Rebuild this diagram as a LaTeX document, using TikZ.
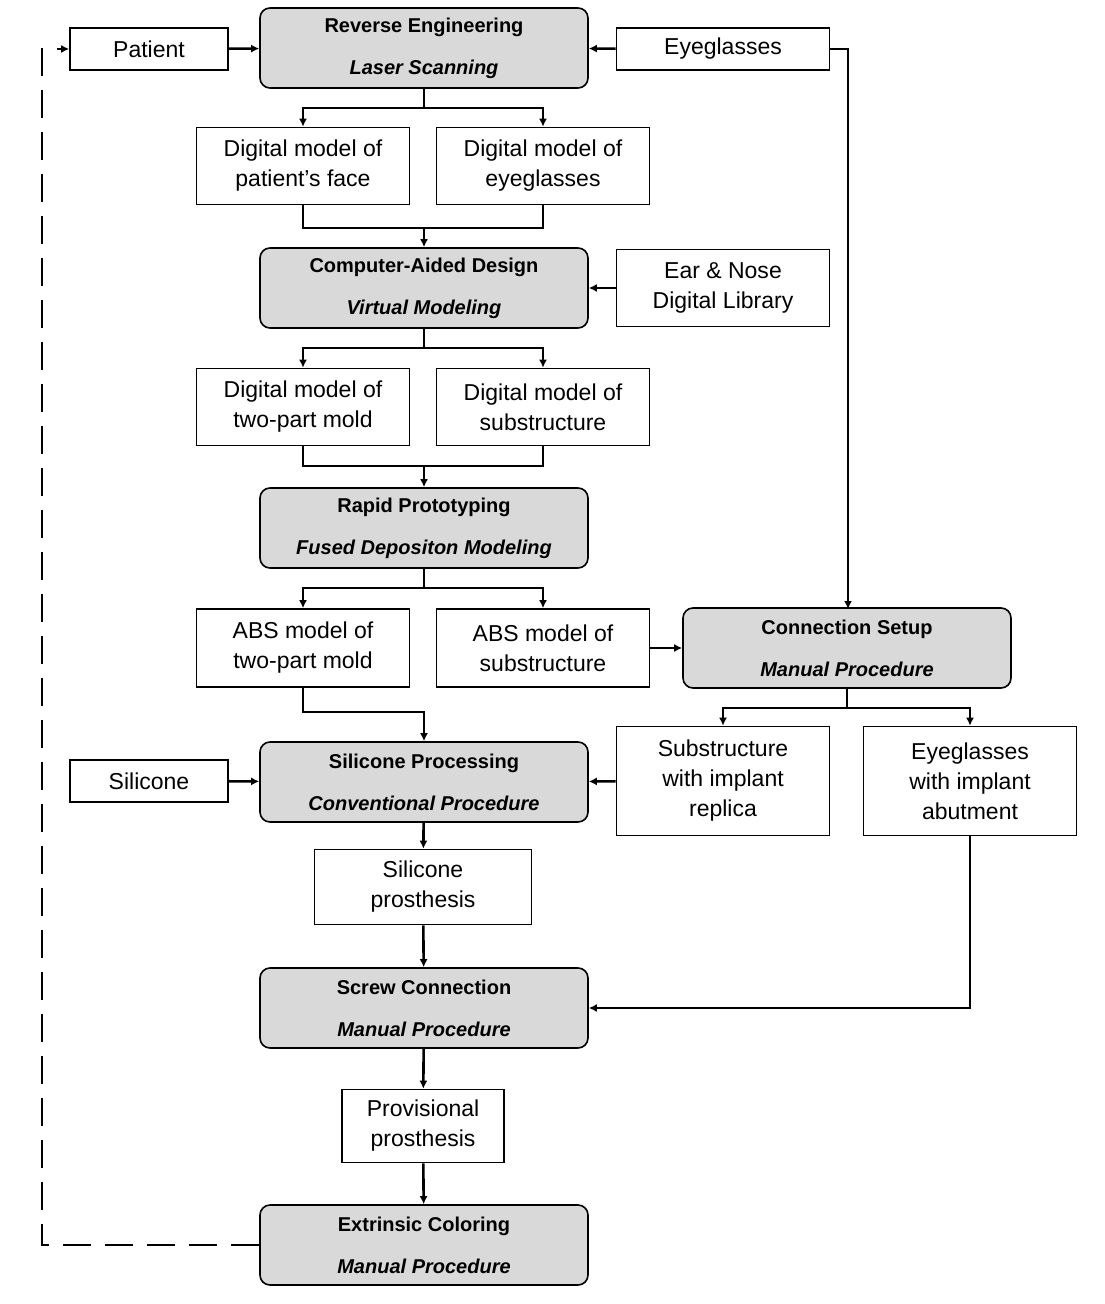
\documentclass[tikz,border=0pt]{standalone}
\usepackage{fontspec}
\setmainfont{Liberation Sans}
\usetikzlibrary{arrows.meta}
\begin{document}
\begin{tikzpicture}[x=0.5pt,y=-0.5pt,
 box/.style={draw,line width=0.8pt,align=center,inner sep=0pt,font=\fontsize{11.5}{15}\selectfont,minimum width=#1},
 box/.default=106.5pt,
 proc/.style={draw,line width=0.8pt,fill=gray!30,rounded corners=5pt,align=center,inner sep=0pt,minimum width=164pt,minimum height=40pt,font=\fontsize{10}{21}\selectfont\bfseries},
 ar/.style={line width=1.3pt,-{Latex[length=4pt,width=4pt]}},
 ln/.style={line width=1.3pt}]
\useasboundingbox (0,0) rectangle (1104,1304);
\node[box=79pt,minimum height=21pt] (pat) at (149,49) {Patient};
\node[proc] (re) at (424,48) {Reverse Engineering\\\itshape Laser Scanning};
\node[box,minimum height=21pt] (eye) at (723,49) {Eyeglasses};
\node[box,minimum height=38.5pt] (dmf) at (303,166) {Digital model of\\patient’s face};
\node[box,minimum height=38.5pt] (dme) at (543,166) {Digital model of\\eyeglasses};
\node[proc] (cad) at (424,288) {Computer-Aided Design\\\itshape Virtual Modeling};
\node[box,minimum height=38.5pt] (ear) at (723,288) {Ear \& Nose\\Digital Library};
\node[box,minimum height=38.5pt] (dmm) at (303,407) {Digital model of\\two-part mold};
\node[box,minimum height=38.5pt] (dms) at (543,407) {Digital model of\\substructure};
\node[proc] (rp) at (424,528) {Rapid Prototyping\\\itshape Fused Depositon Modeling};
\node[box,minimum height=39pt] (abm) at (303,648) {ABS model of\\two-part mold};
\node[box,minimum height=39pt] (abs) at (543,648) {ABS model of\\substructure};
\node[proc] (cs) at (847,648) {Connection Setup\\\itshape Manual Procedure};
\node[box=79pt,minimum height=21pt] (sil) at (149,781) {Silicone};
\node[proc] (sp) at (424,782) {Silicone Processing\\\itshape Conventional Procedure};
\node[box,minimum height=54.5pt] (sub) at (723,781) {Substructure\\with implant\\replica};
\node[box,minimum height=54.5pt] (eya) at (970,781) {Eyeglasses\\with implant\\abutment};
\node[box=108.5pt,minimum height=37.5pt] (spr) at (423,887) {Silicone\\prosthesis};
\node[proc] (sc) at (424,1008) {Screw Connection\\\itshape Manual Procedure};
\node[box=81pt,minimum height=36.5pt] (pp) at (423,1126) {Provisional\\prosthesis};
\node[proc] (ec) at (424,1245) {Extrinsic Coloring\\\itshape Manual Procedure};
\coordinate (j1) at (424,108);
\draw[ln] (re.south) -- (j1);
\draw[ar] (j1) -| (dmf.north);
\draw[ar] (j1) -| (dme.north);
\draw[ln] (dmf.south) |- (424,228) -| (dme.south);
\draw[ar] (424,228) -- (cad.north);
\draw[ln] (cad.south) -- (424,348);
\draw[ar] (424,348) -| (dmm.north);
\draw[ar] (424,348) -| (dms.north);
\draw[ln] (dmm.south) |- (424,466) -| (dms.south);
\draw[ar] (424,466) -- (rp.north);
\draw[ln] (rp.south) -- (424,588);
\draw[ar] (424,588) -| (abm.north);
\draw[ar] (424,588) -| (abs.north);
\draw[ar] (abm.south) |- (424,712) -- (sp.north);
\draw[ar] (abs) -- (cs);
\draw[ar] (pat) -- (re);
\draw[ar] (eye) -- (re);
\draw[ar] (ear) -- (cad);
\draw[ar] (eye.east) -- (848,49) -- (848,609);
\draw[ln] (cs.south) -- (847,708);
\draw[ar] (847,708) -| (sub.north);
\draw[ar] (847,708) -| (eya.north);
\draw[ar] (sub) -- (sp);
\draw[ar] (sil) -- (sp);
\draw[ar] (sp) -- (spr);
\draw[ar] (spr) -- (sc);
\draw[ar] (eya.south) |- (sc.east);
\draw[ar] (sc) -- (pp);
\draw[ar] (pp) -- (ec);
\draw[ar,dash pattern=on 14pt off 7pt] (ec.west) -- (42,1245) -- (42,49) -- (pat.west);
\end{tikzpicture}
\end{document}
